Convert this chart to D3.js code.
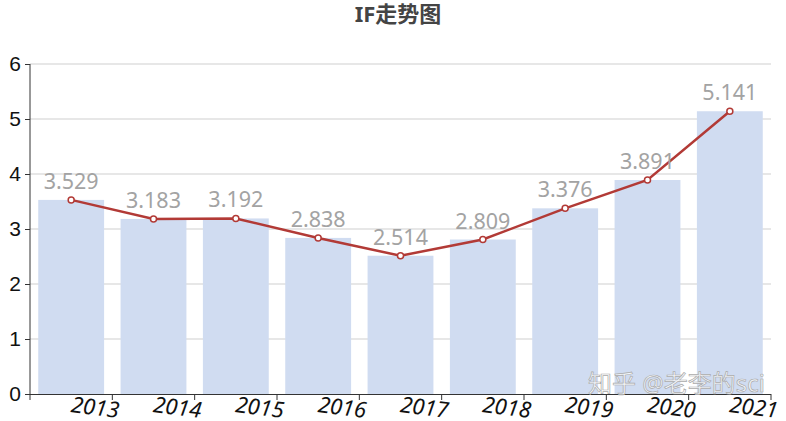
<!DOCTYPE html>
<html>
  <head>
    <meta charset="utf-8">
    <script src="https://cdnjs.cloudflare.com/ajax/libs/d3/7.8.5/d3.min.js"></script>
    <style>
      body { margin: 0; background: #fff; }
      svg { font-family: "Noto Sans", "Noto Sans CJK SC", sans-serif; }
      .grid line { stroke: #cfcfcf; stroke-width: 1; }
      .axis path, .axis line { stroke: #333; }
      .axis text { fill: #111; font-size: 21px; }
      rect.bar { fill: #d0dcf1; }
      path.trend { fill: none; stroke: #b23a36; stroke-width: 2.5; }
      circle.pt { fill: #fff; stroke: #b23a36; stroke-width: 1.5; }
      text.val { fill: #a3a3a3; font-size: 21.5px; text-anchor: middle; }
    </style>
  </head>
  <body>
    <svg width="786" height="421"></svg>
    <script>
      var years = ["2013", "2014", "2015", "2016", "2017", "2018", "2019", "2020", "2021"];
      var impact = [3.529, 3.183, 3.192, 2.838, 2.514, 2.809, 3.376, 3.891, 5.141];
      var yTicks = [0, 1, 2, 3, 4, 5, 6];

      var svg = d3.select("svg");
      var plotL = 30, plotR = 771, plotT = 64, plotB = 394;

      var x = d3.scaleBand().domain(years).range([plotL, plotR]).paddingInner(0.2).paddingOuter(0.1);
      var xc = d3.scaleBand().domain(years).range([plotL, plotR]);
      var y = d3.scaleLinear().domain([0, 6]).range([plotB, plotT]);

      // grid
      svg.append("g").attr("class", "grid")
        .selectAll("line").data(yTicks.slice(1)).enter().append("line")
        .attr("x1", plotL).attr("x2", plotR)
        .attr("y1", d => y(d)).attr("y2", d => y(d));

      // bars
      svg.selectAll("rect.bar").data(impact).enter().append("rect")
        .attr("class", "bar")
        .attr("x", (d, i) => x(years[i]))
        .attr("width", x.bandwidth())
        .attr("y", d => y(d))
        .attr("height", d => y(0) - y(d));

      // y axis
      var yAxis = svg.append("g").attr("class", "axis")
        .attr("transform", "translate(" + plotL + ",0)")
        .call(d3.axisLeft(y).tickValues(yTicks).tickFormat(d3.format("d")).tickSize(5).tickPadding(4));
      yAxis.select(".domain").attr("d", "M0," + plotT + "V" + plotB);

      // x axis: ticks on band boundaries
      var xg = svg.append("g").attr("class", "axis");
      xg.append("line").attr("x1", plotL).attr("x2", plotR)
        .attr("y1", plotB + 0.5).attr("y2", plotB + 0.5);
      xg.selectAll("line.tk").data(years).enter().append("line")
        .attr("class", "tk")
        .attr("x1", d => xc(d) + xc.bandwidth()).attr("x2", d => xc(d) + xc.bandwidth())
        .attr("y1", plotB).attr("y2", plotB + 6);
      xg.append("line").attr("x1", plotL).attr("x2", plotL).attr("y1", plotB).attr("y2", plotB + 6);
      xg.selectAll("text").data(years).enter().append("text")
        .attr("transform", d => "translate(" + (xc(d) + xc.bandwidth() / 2 - 1) + "," + (plotB + 18) + ") rotate(7)")
        .attr("text-anchor", "start")
        .style("font-style", "italic")
        .style("font-size", "22px")
        .text(d => d);

      // line
      var cx = d => xc(d) + xc.bandwidth() / 2;
      var line = d3.line().x((d, i) => cx(years[i])).y(d => y(d));
      svg.append("path").datum(impact).attr("class", "trend").attr("d", line);

      svg.selectAll("circle.pt").data(impact).enter().append("circle")
        .attr("class", "pt").attr("r", 3)
        .attr("cx", (d, i) => cx(years[i])).attr("cy", d => y(d));

      svg.selectAll("text.val").data(impact).enter().append("text")
        .attr("class", "val")
        .attr("x", (d, i) => cx(years[i]))
        .attr("y", d => y(d) - 11)
        .text(d => d.toFixed(3));

      // title
      svg.append("text").attr("x", 398).attr("y", 22)
        .attr("text-anchor", "middle")
        .style("font-size", "22px").style("font-weight", "bold").style("fill", "#444")
        .text("IF走势图");

      // watermark
      svg.append("text").attr("x", 588).attr("y", 392)
        .style("font-size", "24px").style("fill", "#fff").style("fill-opacity", 0.8)
        .style("stroke", "#aaa").style("stroke-width", 0.7)
        .text("知乎 @老李的sci");
    </script>
  </body>
</html>
